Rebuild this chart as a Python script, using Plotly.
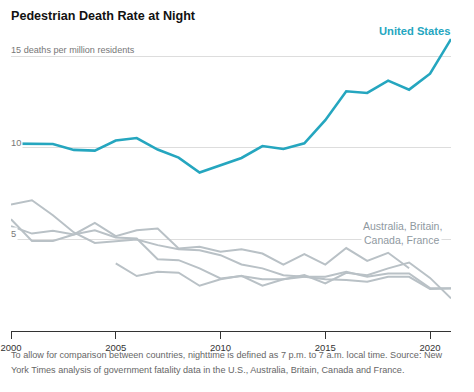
import plotly.graph_objects as go

# ---- data (deaths per million residents, night-time pedestrian deaths) ----
years = list(range(2000, 2022))
years_b = list(range(2000, 2020))
years_d = list(range(2005, 2022))

us = [10.23, 10.23, 10.21, 9.89, 9.85, 10.40, 10.54, 9.91, 9.47, 8.65, 9.05,
      9.45, 10.10, 9.94, 10.25, 11.51, 13.09, 13.00, 13.67, 13.18, 14.05, 15.94]

other_a = [6.91, 7.14, 6.32, 5.38, 4.81, 4.90, 4.99, 4.69, 4.47, 4.41, 4.14,
           3.63, 3.42, 3.05, 2.96, 2.82, 2.78, 2.69, 2.96, 2.96, 2.30, 2.32]
other_b = [6.10, 4.92, 4.92, 5.27, 5.90, 5.18, 5.50, 5.60, 4.51, 4.60, 4.33,
           4.46, 4.23, 3.63, 4.20, 3.63, 4.53, 3.83, 4.27, 3.43]
other_c = [5.72, 5.32, 5.47, 5.27, 5.50, 5.11, 5.05, 3.92, 3.87, 3.42, 2.87,
           3.00, 2.82, 2.82, 2.96, 2.96, 3.23, 2.96, 3.14, 3.14, 2.34, 2.34]
other_d = [3.69, 3.00, 3.24, 3.18, 2.47, 2.83, 3.01, 2.47, 2.83, 3.05, 2.60,
           3.18, 3.05, 3.42, 3.74, 2.90, 1.78]

x_ticks = [2000, 2005, 2010, 2015, 2020]
y_grid = [5, 10, 15]

TEAL = "#25a6bf"
GRAY = "#b9c1c6"
FONT = "Liberation Sans"

# plot-area geometry in pixels (used only to place text)
L, R, T, B = 11, 451, 38, 331


def px(xp):
    return (xp - L) / (R - L)


def py(yp):
    return (B - yp) / (B - T)


fig = go.Figure()
for xs, ys in [(years, other_a), (years_b, other_b), (years, other_c), (years_d, other_d)]:
    fig.add_trace(go.Scatter(x=xs, y=ys, mode="lines",
                             line=dict(color=GRAY, width=2),
                             hoverinfo="skip", showlegend=False))
fig.add_trace(go.Scatter(x=years, y=us, mode="lines",
                         line=dict(color=TEAL, width=2.6),
                         hoverinfo="skip", showlegend=False))

ann = [
    dict(text="<b>Pedestrian Death Rate at Night</b>", x=px(9), y=py(16),
         font=dict(size=12.6, color="#121212")),
    dict(text="15 deaths per million residents", x=px(9), y=py(50),
         font=dict(size=9.1, color="#777777")),
    dict(text="10", x=px(9), y=py(142.5), bgcolor="white",
         font=dict(size=9.3, color="#777777")),
    dict(text="5", x=px(9), y=py(233.5), bgcolor="white",
         font=dict(size=9.3, color="#777777")),
    dict(text="Australia, Britain,", x=px(361), y=py(226),
         font=dict(size=10.5, color="#8f999f")),
    dict(text="Canada, France", x=px(361), y=py(240), bgcolor="white", borderpad=2,
         font=dict(size=10.5, color="#8f999f")),
    dict(text="To allow for comparison between countries, nighttime is defined as 7 p.m. to 7 a.m. local time. Source: New",
         x=px(9), y=py(354.5), font=dict(size=9.1, color="#666666")),
    dict(text="York Times analysis of government fatality data in the U.S., Australia, Britain, Canada and France.",
         x=px(9), y=py(369.5), font=dict(size=9.1, color="#666666")),
]
for a in ann:
    a.update(xref="paper", yref="paper", xanchor="left", yanchor="middle",
             showarrow=False)
ann.append(dict(text="<b>United States</b>", xref="paper", yref="paper",
                x=px(453), y=py(31), xanchor="right", yanchor="middle",
                showarrow=False, font=dict(size=11.2, color=TEAL)))

fig.update_layout(
    width=474, height=392,
    margin=dict(l=L, r=474 - R, t=T, b=392 - B),
    paper_bgcolor="white", plot_bgcolor="white",
    font=dict(family=FONT),
    annotations=ann,
    xaxis=dict(range=[2000, 2021], tickvals=x_ticks, ticks="outside", ticklen=7,
               tickwidth=1.2, tickcolor="#333333", showline=True, linecolor="#333333",
               linewidth=1.2, showgrid=False, zeroline=False, automargin="height",
               tickfont=dict(size=9.5, color="#333333", family=FONT)),
    yaxis=dict(range=[0, 16], tickvals=y_grid, showticklabels=False,
               gridcolor="#dddddd", gridwidth=1, showline=False, zeroline=False,
               automargin=False),
)

fig.write_html("out.html", config={"displayModeBar": False},
               post_script="document.body.style.margin='0';")
